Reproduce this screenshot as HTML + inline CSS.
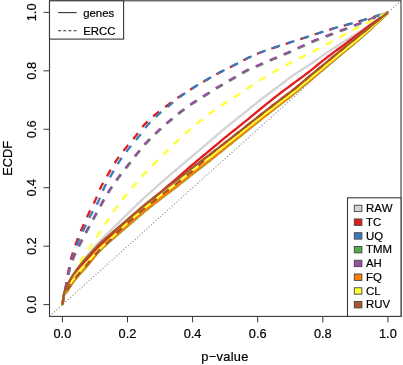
<!DOCTYPE html>
<html><head><meta charset="utf-8"><title>ECDF</title>
<style>
html,body{margin:0;padding:0;background:#fff}
body{width:403px;height:365px;overflow:hidden;position:relative}
text{font-family:"Liberation Sans",Arial,Helvetica,sans-serif;fill:#000;stroke:#000;stroke-width:0.2px}
.ax{font-size:12.8px}
.lab{font-size:12.8px}
.lg{font-size:11.4px;font-kerning:none}
</style></head><body>
<svg width="403" height="365" viewBox="0 0 403 365" style="position:absolute;left:0;top:0">
<rect x="0" y="0" width="403" height="365" fill="#fff"/>
<line x1="49.5" y1="316.29" x2="401.0" y2="0.71" stroke="#8c8c8c" stroke-width="1.1" stroke-dasharray="1.1 2"/>
<path d="M62.40,304.60 L62.40,304.57 L62.42,304.48 L62.44,304.32 L62.48,304.10 L62.52,303.82 L62.57,303.48 L62.64,303.07 L62.71,302.61 L62.79,302.08 L62.89,301.50 L62.99,300.85 L63.10,300.15 L63.22,299.39 L63.35,298.56 L63.49,297.63 L63.64,296.58 L63.80,295.46 L63.97,294.33 L64.15,293.26 L64.34,292.38 L64.54,291.69 L64.75,291.04 L64.97,290.41 L65.19,289.82 L65.43,289.24 L65.68,288.68 L65.94,288.12 L66.20,287.56 L66.48,286.97 L66.77,286.35 L67.06,285.73 L67.37,285.10 L67.68,284.46 L68.01,283.83 L68.34,283.18 L68.69,282.53 L69.04,281.88 L69.41,281.21 L69.78,280.53 L70.16,279.84 L70.56,279.15 L70.96,278.45 L71.37,277.74 L71.79,277.03 L72.23,276.32 L72.67,275.60 L73.12,274.89 L73.58,274.17 L74.05,273.45 L74.53,272.73 L75.02,272.00 L75.52,271.27 L76.03,270.53 L76.55,269.79 L77.08,269.05 L77.62,268.31 L78.17,267.56 L78.72,266.80 L79.29,266.01 L79.87,265.20 L80.46,264.37 L81.05,263.52 L81.66,262.65 L82.28,261.77 L82.90,260.90 L83.54,260.04 L84.18,259.19 L84.84,258.37 L85.50,257.55 L86.18,256.72 L86.86,255.89 L87.55,255.05 L88.26,254.20 L88.97,253.35 L89.69,252.49 L90.43,251.63 L91.17,250.77 L91.92,249.90 L92.68,249.03 L93.45,248.15 L94.24,247.27 L95.03,246.39 L95.83,245.51 L96.64,244.62 L97.46,243.74 L98.29,242.86 L99.13,241.97 L99.98,241.09 L100.84,240.21 L101.70,239.33 L102.58,238.44 L103.47,237.55 L104.37,236.65 L105.28,235.75 L106.19,234.85 L107.12,233.94 L108.06,233.02 L109.00,232.10 L109.96,231.16 L110.92,230.22 L111.90,229.28 L112.88,228.32 L113.88,227.35 L114.88,226.37 L115.90,225.37 L116.92,224.36 L117.95,223.34 L119.00,222.31 L120.05,221.27 L121.11,220.22 L122.19,219.16 L123.27,218.10 L124.36,217.02 L125.46,215.94 L126.57,214.85 L127.69,213.75 L128.82,212.64 L129.96,211.51 L131.11,210.37 L132.27,209.22 L133.44,208.06 L134.62,206.89 L135.81,205.73 L137.01,204.56 L138.22,203.39 L139.44,202.23 L140.66,201.08 L141.90,199.93 L143.15,198.80 L144.40,197.67 L145.67,196.54 L146.95,195.39 L148.23,194.24 L149.53,193.07 L150.83,191.90 L152.15,190.72 L153.47,189.53 L154.81,188.33 L156.15,187.13 L157.51,185.91 L158.87,184.69 L160.24,183.46 L161.63,182.23 L163.02,181.02 L164.42,179.80 L165.83,178.59 L167.25,177.38 L168.69,176.16 L170.13,174.95 L171.58,173.72 L173.04,172.49 L174.51,171.25 L175.99,170.00 L177.48,168.73 L178.98,167.45 L180.49,166.17 L182.01,164.89 L183.53,163.60 L185.07,162.30 L186.62,160.99 L188.18,159.68 L189.74,158.35 L191.32,157.02 L192.91,155.67 L194.51,154.32 L196.11,152.96 L197.73,151.58 L199.35,150.20 L200.99,148.81 L202.63,147.42 L204.29,146.01 L205.95,144.60 L207.63,143.17 L209.31,141.74 L211.00,140.30 L212.71,138.84 L214.42,137.37 L216.14,135.90 L217.87,134.41 L219.62,132.92 L221.37,131.43 L223.13,129.94 L224.90,128.44 L226.68,126.95 L228.47,125.47 L230.27,124.01 L232.08,122.56 L233.90,121.11 L235.73,119.67 L237.57,118.22 L239.42,116.77 L241.28,115.30 L243.14,113.81 L245.02,112.30 L246.91,110.77 L248.81,109.24 L250.71,107.69 L252.63,106.15 L254.56,104.60 L256.49,103.05 L258.44,101.51 L260.39,99.98 L262.36,98.46 L264.34,96.96 L266.32,95.46 L268.31,93.97 L270.32,92.48 L272.33,90.99 L274.36,89.48 L276.39,87.96 L278.43,86.42 L280.48,84.86 L282.55,83.29 L284.62,81.72 L286.70,80.15 L288.79,78.59 L290.89,77.04 L293.00,75.53 L295.12,74.06 L297.25,72.64 L299.39,71.27 L301.54,69.92 L303.70,68.57 L305.87,67.20 L308.05,65.79 L310.24,64.32 L312.44,62.80 L314.64,61.25 L316.86,59.67 L319.09,58.09 L321.33,56.50 L323.57,54.92 L325.83,53.36 L328.09,51.83 L330.37,50.33 L332.66,48.84 L334.95,47.36 L337.26,45.88 L339.57,44.39 L341.89,42.90 L344.23,41.39 L346.57,39.87 L348.93,38.36 L351.29,36.83 L353.66,35.30 L356.04,33.75 L358.44,32.19 L360.84,30.60 L363.25,29.01 L365.67,27.40 L368.10,25.78 L370.54,24.15 L372.99,22.51 L375.45,20.86 L377.92,19.20 L380.40,17.52 L382.89,15.83 L385.39,14.12 L387.90,12.40" stroke="#d3d3d3" stroke-width="2.3" fill="none" stroke-linejoin="round"/>
<path d="M62.40,304.60 L62.40,304.57 L62.42,304.48 L62.44,304.32 L62.48,304.10 L62.52,303.82 L62.57,303.49 L62.64,303.09 L62.71,302.64 L62.79,302.13 L62.89,301.57 L62.99,300.95 L63.10,300.28 L63.22,299.57 L63.35,298.80 L63.49,297.93 L63.64,296.95 L63.80,295.92 L63.97,294.88 L64.15,293.94 L64.34,293.26 L64.54,292.87 L64.75,292.60 L64.97,292.43 L65.19,292.34 L65.43,292.31 L65.68,292.30 L65.94,292.26 L66.20,292.14 L66.48,291.86 L66.77,291.40 L67.06,290.91 L67.37,290.42 L67.68,289.91 L68.01,289.39 L68.34,288.86 L68.69,288.33 L69.04,287.77 L69.41,287.21 L69.78,286.63 L70.16,286.04 L70.56,285.44 L70.96,284.83 L71.37,284.22 L71.79,283.59 L72.23,282.96 L72.67,282.33 L73.12,281.69 L73.58,281.05 L74.05,280.41 L74.53,279.78 L75.02,279.15 L75.52,278.53 L76.03,277.92 L76.55,277.31 L77.08,276.69 L77.62,276.06 L78.17,275.43 L78.72,274.80 L79.29,274.16 L79.87,273.51 L80.46,272.85 L81.05,272.18 L81.66,271.51 L82.28,270.84 L82.90,270.16 L83.54,269.46 L84.18,268.76 L84.84,268.04 L85.50,267.30 L86.18,266.53 L86.86,265.73 L87.55,264.90 L88.26,264.05 L88.97,263.18 L89.69,262.29 L90.43,261.38 L91.17,260.45 L91.92,259.51 L92.68,258.55 L93.45,257.59 L94.24,256.62 L95.03,255.65 L95.83,254.68 L96.64,253.71 L97.46,252.76 L98.29,251.81 L99.13,250.89 L99.98,249.99 L100.84,249.11 L101.70,248.27 L102.58,247.45 L103.47,246.63 L104.37,245.80 L105.28,244.98 L106.19,244.15 L107.12,243.31 L108.06,242.48 L109.00,241.64 L109.96,240.80 L110.92,239.95 L111.90,239.10 L112.88,238.24 L113.88,237.37 L114.88,236.50 L115.90,235.62 L116.92,234.73 L117.95,233.83 L119.00,232.92 L120.05,232.00 L121.11,231.07 L122.19,230.14 L123.27,229.21 L124.36,228.26 L125.46,227.31 L126.57,226.36 L127.69,225.39 L128.82,224.42 L129.96,223.44 L131.11,222.46 L132.27,221.46 L133.44,220.46 L134.62,219.45 L135.81,218.44 L137.01,217.42 L138.22,216.39 L139.44,215.35 L140.66,214.31 L141.90,213.26 L143.15,212.21 L144.40,211.15 L145.67,210.10 L146.95,209.05 L148.23,208.02 L149.53,206.98 L150.83,205.95 L152.15,204.92 L153.47,203.88 L154.81,202.85 L156.15,201.81 L157.51,200.76 L158.87,199.70 L160.24,198.63 L161.63,197.56 L163.02,196.50 L164.42,195.43 L165.83,194.37 L167.25,193.30 L168.69,192.23 L170.13,191.14 L171.58,190.05 L173.04,188.94 L174.51,187.81 L175.99,186.67 L177.48,185.50 L178.98,184.31 L180.49,183.11 L182.01,181.89 L183.53,180.66 L185.07,179.41 L186.62,178.17 L188.18,176.91 L189.74,175.66 L191.32,174.41 L192.91,173.16 L194.51,171.92 L196.11,170.67 L197.73,169.43 L199.35,168.18 L200.99,166.93 L202.63,165.67 L204.29,164.39 L205.95,163.10 L207.63,161.80 L209.31,160.47 L211.00,159.13 L212.71,157.77 L214.42,156.41 L216.14,155.03 L217.87,153.64 L219.62,152.24 L221.37,150.83 L223.13,149.41 L224.90,147.98 L226.68,146.54 L228.47,145.10 L230.27,143.64 L232.08,142.18 L233.90,140.71 L235.73,139.23 L237.57,137.75 L239.42,136.26 L241.28,134.77 L243.14,133.27 L245.02,131.76 L246.91,130.24 L248.81,128.71 L250.71,127.17 L252.63,125.63 L254.56,124.08 L256.49,122.52 L258.44,120.97 L260.39,119.42 L262.36,117.86 L264.34,116.30 L266.32,114.74 L268.31,113.17 L270.32,111.60 L272.33,110.03 L274.36,108.45 L276.39,106.87 L278.43,105.28 L280.48,103.69 L282.55,102.09 L284.62,100.49 L286.70,98.90 L288.79,97.32 L290.89,95.72 L293.00,94.05 L295.12,92.33 L297.25,90.57 L299.39,88.78 L301.54,86.98 L303.70,85.16 L305.87,83.34 L308.05,81.51 L310.24,79.68 L312.44,77.85 L314.64,76.01 L316.86,74.15 L319.09,72.29 L321.33,70.43 L323.57,68.55 L325.83,66.67 L328.09,64.77 L330.37,62.87 L332.66,60.95 L334.95,59.03 L337.26,57.10 L339.57,55.16 L341.89,53.23 L344.23,51.29 L346.57,49.35 L348.93,47.41 L351.29,45.46 L353.66,43.51 L356.04,41.55 L358.44,39.54 L360.84,37.47 L363.25,35.35 L365.67,33.19 L368.10,30.99 L370.54,28.75 L372.99,26.47 L375.45,24.17 L377.92,21.84 L380.40,19.50 L382.89,17.14 L385.39,14.77 L387.90,12.40" stroke="#d3d3d3" stroke-width="2.3" fill="none" stroke-dasharray="7.6 7.6" stroke-linejoin="round"/>
<path d="M62.40,304.60 L62.40,304.57 L62.42,304.48 L62.44,304.33 L62.48,304.12 L62.52,303.86 L62.57,303.53 L62.64,303.15 L62.71,302.71 L62.79,302.21 L62.89,301.65 L62.99,301.04 L63.10,300.37 L63.22,299.65 L63.35,298.87 L63.49,297.98 L63.64,296.99 L63.80,295.94 L63.97,294.87 L64.15,293.87 L64.34,293.04 L64.54,292.39 L64.75,291.78 L64.97,291.19 L65.19,290.63 L65.43,290.09 L65.68,289.56 L65.94,289.03 L66.20,288.49 L66.48,287.93 L66.77,287.33 L67.06,286.71 L67.37,286.09 L67.68,285.46 L68.01,284.82 L68.34,284.18 L68.69,283.53 L69.04,282.88 L69.41,282.23 L69.78,281.58 L70.16,280.93 L70.56,280.28 L70.96,279.62 L71.37,278.96 L71.79,278.29 L72.23,277.61 L72.67,276.92 L73.12,276.21 L73.58,275.50 L74.05,274.77 L74.53,274.04 L75.02,273.31 L75.52,272.57 L76.03,271.85 L76.55,271.11 L77.08,270.36 L77.62,269.61 L78.17,268.88 L78.72,268.17 L79.29,267.50 L79.87,266.85 L80.46,266.21 L81.05,265.57 L81.66,264.93 L82.28,264.29 L82.90,263.64 L83.54,262.98 L84.18,262.32 L84.84,261.63 L85.50,260.93 L86.18,260.22 L86.86,259.49 L87.55,258.75 L88.26,257.99 L88.97,257.22 L89.69,256.44 L90.43,255.66 L91.17,254.86 L91.92,254.05 L92.68,253.24 L93.45,252.42 L94.24,251.59 L95.03,250.76 L95.83,249.93 L96.64,249.10 L97.46,248.27 L98.29,247.44 L99.13,246.62 L99.98,245.80 L100.84,244.99 L101.70,244.19 L102.58,243.40 L103.47,242.61 L104.37,241.82 L105.28,241.02 L106.19,240.22 L107.12,239.42 L108.06,238.61 L109.00,237.80 L109.96,236.98 L110.92,236.15 L111.90,235.32 L112.88,234.48 L113.88,233.63 L114.88,232.77 L115.90,231.90 L116.92,231.02 L117.95,230.13 L119.00,229.22 L120.05,228.30 L121.11,227.37 L122.19,226.42 L123.27,225.47 L124.36,224.51 L125.46,223.54 L126.57,222.56 L127.69,221.58 L128.82,220.58 L129.96,219.57 L131.11,218.56 L132.27,217.53 L133.44,216.50 L134.62,215.46 L135.81,214.40 L137.01,213.34 L138.22,212.26 L139.44,211.18 L140.66,210.08 L141.90,208.98 L143.15,207.86 L144.40,206.73 L145.67,205.60 L146.95,204.45 L148.23,203.30 L149.53,202.13 L150.83,200.96 L152.15,199.78 L153.47,198.59 L154.81,197.39 L156.15,196.19 L157.51,194.97 L158.87,193.75 L160.24,192.51 L161.63,191.29 L163.02,190.07 L164.42,188.85 L165.83,187.64 L167.25,186.44 L168.69,185.23 L170.13,184.01 L171.58,182.79 L173.04,181.56 L174.51,180.31 L175.99,179.04 L177.48,177.75 L178.98,176.45 L180.49,175.14 L182.01,173.82 L183.53,172.49 L185.07,171.15 L186.62,169.80 L188.18,168.45 L189.74,167.09 L191.32,165.73 L192.91,164.37 L194.51,163.02 L196.11,161.66 L197.73,160.31 L199.35,158.96 L200.99,157.61 L202.63,156.25 L204.29,154.89 L205.95,153.52 L207.63,152.13 L209.31,150.74 L211.00,149.33 L212.71,147.90 L214.42,146.47 L216.14,145.03 L217.87,143.57 L219.62,142.12 L221.37,140.66 L223.13,139.20 L224.90,137.73 L226.68,136.27 L228.47,134.82 L230.27,133.38 L232.08,131.95 L233.90,130.51 L235.73,129.08 L237.57,127.63 L239.42,126.17 L241.28,124.69 L243.14,123.19 L245.02,121.66 L246.91,120.11 L248.81,118.54 L250.71,116.97 L252.63,115.38 L254.56,113.79 L256.49,112.19 L258.44,110.59 L260.39,109.00 L262.36,107.40 L264.34,105.80 L266.32,104.20 L268.31,102.59 L270.32,100.98 L272.33,99.38 L274.36,97.77 L276.39,96.18 L278.43,94.59 L280.48,93.03 L282.55,91.47 L284.62,89.93 L286.70,88.38 L288.79,86.84 L290.89,85.28 L293.00,83.71 L295.12,82.13 L297.25,80.56 L299.39,78.98 L301.54,77.40 L303.70,75.80 L305.87,74.17 L308.05,72.51 L310.24,70.81 L312.44,69.07 L314.64,67.29 L316.86,65.50 L319.09,63.69 L321.33,61.87 L323.57,60.07 L325.83,58.28 L328.09,56.53 L330.37,54.80 L332.66,53.10 L334.95,51.41 L337.26,49.72 L339.57,48.03 L341.89,46.31 L344.23,44.57 L346.57,42.80 L348.93,41.03 L351.29,39.24 L353.66,37.45 L356.04,35.66 L358.44,33.88 L360.84,32.09 L363.25,30.31 L365.67,28.52 L368.10,26.74 L370.54,24.95 L372.99,23.16 L375.45,21.37 L377.92,19.57 L380.40,17.78 L382.89,15.99 L385.39,14.19 L387.90,12.40" stroke="#e41a1c" stroke-width="2.3" fill="none" stroke-linejoin="round"/>
<path d="M62.40,304.60 L62.40,304.57 L62.42,304.47 L62.44,304.30 L62.48,304.07 L62.52,303.78 L62.57,303.42 L62.64,303.00 L62.71,302.52 L62.79,301.99 L62.89,301.40 L62.99,300.76 L63.10,300.07 L63.22,299.35 L63.35,298.59 L63.49,297.79 L63.64,296.96 L63.80,296.10 L63.97,295.21 L64.15,294.28 L64.34,293.31 L64.54,292.30 L64.75,291.28 L64.97,290.25 L65.19,289.18 L65.43,288.05 L65.68,286.84 L65.94,285.50 L66.20,284.03 L66.48,282.43 L66.77,280.74 L67.06,278.95 L67.37,277.11 L67.68,275.24 L68.01,273.38 L68.34,271.58 L68.69,269.83 L69.04,268.05 L69.41,266.26 L69.78,264.46 L70.16,262.68 L70.56,260.92 L70.96,259.21 L71.37,257.56 L71.79,255.98 L72.23,254.45 L72.67,252.96 L73.12,251.50 L73.58,250.07 L74.05,248.66 L74.53,247.27 L75.02,245.88 L75.52,244.50 L76.03,243.10 L76.55,241.68 L77.08,240.27 L77.62,238.86 L78.17,237.47 L78.72,236.07 L79.29,234.68 L79.87,233.29 L80.46,231.89 L81.05,230.49 L81.66,229.06 L82.28,227.62 L82.90,226.17 L83.54,224.72 L84.18,223.26 L84.84,221.79 L85.50,220.32 L86.18,218.85 L86.86,217.37 L87.55,215.89 L88.26,214.41 L88.97,212.95 L89.69,211.51 L90.43,210.08 L91.17,208.64 L91.92,207.19 L92.68,205.71 L93.45,204.17 L94.24,202.56 L95.03,200.86 L95.83,199.04 L96.64,197.10 L97.46,195.10 L98.29,193.08 L99.13,191.07 L99.98,189.13 L100.84,187.30 L101.70,185.58 L102.58,183.92 L103.47,182.31 L104.37,180.72 L105.28,179.16 L106.19,177.61 L107.12,176.05 L108.06,174.46 L109.00,172.84 L109.96,171.18 L110.92,169.50 L111.90,167.80 L112.88,166.12 L113.88,164.44 L114.88,162.80 L115.90,161.20 L116.92,159.65 L117.95,158.16 L119.00,156.71 L120.05,155.29 L121.11,153.90 L122.19,152.52 L123.27,151.15 L124.36,149.77 L125.46,148.39 L126.57,147.00 L127.69,145.63 L128.82,144.28 L129.96,142.92 L131.11,141.56 L132.27,140.19 L133.44,138.79 L134.62,137.36 L135.81,135.88 L137.01,134.32 L138.22,132.67 L139.44,130.98 L140.66,129.29 L141.90,127.63 L143.15,126.06 L144.40,124.61 L145.67,123.29 L146.95,122.01 L148.23,120.77 L149.53,119.56 L150.83,118.38 L152.15,117.23 L153.47,116.10 L154.81,114.99 L156.15,113.91 L157.51,112.83 L158.87,111.77 L160.24,110.72 L161.63,109.68 L163.02,108.63 L164.42,107.58 L165.83,106.52 L167.25,105.45 L168.69,104.36 L170.13,103.27 L171.58,102.18 L173.04,101.11 L174.51,100.04 L175.99,98.98 L177.48,97.93 L178.98,96.89 L180.49,95.86 L182.01,94.85 L183.53,93.84 L185.07,92.85 L186.62,91.86 L188.18,90.88 L189.74,89.91 L191.32,88.94 L192.91,87.97 L194.51,86.99 L196.11,86.02 L197.73,85.05 L199.35,84.09 L200.99,83.13 L202.63,82.17 L204.29,81.20 L205.95,80.24 L207.63,79.28 L209.31,78.31 L211.00,77.34 L212.71,76.37 L214.42,75.41 L216.14,74.45 L217.87,73.49 L219.62,72.56 L221.37,71.63 L223.13,70.73 L224.90,69.84 L226.68,68.96 L228.47,68.08 L230.27,67.19 L232.08,66.28 L233.90,65.35 L235.73,64.39 L237.57,63.39 L239.42,62.38 L241.28,61.37 L243.14,60.37 L245.02,59.40 L246.91,58.47 L248.81,57.57 L250.71,56.68 L252.63,55.80 L254.56,54.94 L256.49,54.09 L258.44,53.27 L260.39,52.48 L262.36,51.71 L264.34,50.97 L266.32,50.27 L268.31,49.59 L270.32,48.93 L272.33,48.27 L274.36,47.61 L276.39,46.95 L278.43,46.26 L280.48,45.58 L282.55,44.90 L284.62,44.22 L286.70,43.54 L288.79,42.85 L290.89,42.17 L293.00,41.48 L295.12,40.79 L297.25,40.11 L299.39,39.42 L301.54,38.73 L303.70,38.03 L305.87,37.33 L308.05,36.62 L310.24,35.90 L312.44,35.17 L314.64,34.44 L316.86,33.72 L319.09,32.99 L321.33,32.27 L323.57,31.56 L325.83,30.84 L328.09,30.12 L330.37,29.40 L332.66,28.70 L334.95,28.02 L337.26,27.35 L339.57,26.72 L341.89,26.11 L344.23,25.50 L346.57,24.88 L348.93,24.23 L351.29,23.56 L353.66,22.89 L356.04,22.20 L358.44,21.51 L360.84,20.81 L363.25,20.10 L365.67,19.37 L368.10,18.64 L370.54,17.90 L372.99,17.15 L375.45,16.39 L377.92,15.62 L380.40,14.83 L382.89,14.03 L385.39,13.22 L387.90,12.40" stroke="#e41a1c" stroke-width="2.3" fill="none" stroke-dasharray="7.6 7.6" stroke-linejoin="round"/>
<path d="M62.40,304.60 L62.40,304.57 L62.42,304.48 L62.44,304.32 L62.48,304.10 L62.52,303.82 L62.57,303.48 L62.64,303.09 L62.71,302.63 L62.79,302.12 L62.89,301.55 L62.99,300.92 L63.10,300.25 L63.22,299.52 L63.35,298.74 L63.49,297.85 L63.64,296.86 L63.80,295.80 L63.97,294.74 L64.15,293.77 L64.34,293.05 L64.54,292.60 L64.75,292.25 L64.97,291.98 L65.19,291.76 L65.43,291.57 L65.68,291.37 L65.94,291.14 L66.20,290.87 L66.48,290.51 L66.77,290.04 L67.06,289.55 L67.37,289.05 L67.68,288.55 L68.01,288.03 L68.34,287.51 L68.69,286.98 L69.04,286.44 L69.41,285.88 L69.78,285.31 L70.16,284.74 L70.56,284.15 L70.96,283.56 L71.37,282.95 L71.79,282.35 L72.23,281.73 L72.67,281.12 L73.12,280.50 L73.58,279.88 L74.05,279.26 L74.53,278.63 L75.02,278.02 L75.52,277.40 L76.03,276.78 L76.55,276.16 L77.08,275.52 L77.62,274.87 L78.17,274.22 L78.72,273.55 L79.29,272.87 L79.87,272.19 L80.46,271.50 L81.05,270.82 L81.66,270.12 L82.28,269.43 L82.90,268.72 L83.54,268.01 L84.18,267.30 L84.84,266.57 L85.50,265.82 L86.18,265.06 L86.86,264.27 L87.55,263.46 L88.26,262.64 L88.97,261.79 L89.69,260.94 L90.43,260.06 L91.17,259.18 L91.92,258.28 L92.68,257.38 L93.45,256.47 L94.24,255.55 L95.03,254.63 L95.83,253.71 L96.64,252.80 L97.46,251.89 L98.29,250.99 L99.13,250.10 L99.98,249.23 L100.84,248.37 L101.70,247.54 L102.58,246.72 L103.47,245.90 L104.37,245.08 L105.28,244.24 L106.19,243.40 L107.12,242.56 L108.06,241.71 L109.00,240.85 L109.96,239.99 L110.92,239.12 L111.90,238.25 L112.88,237.37 L113.88,236.48 L114.88,235.58 L115.90,234.66 L116.92,233.74 L117.95,232.80 L119.00,231.85 L120.05,230.89 L121.11,229.92 L122.19,228.95 L123.27,227.98 L124.36,227.01 L125.46,226.03 L126.57,225.05 L127.69,224.08 L128.82,223.10 L129.96,222.11 L131.11,221.11 L132.27,220.10 L133.44,219.09 L134.62,218.07 L135.81,217.04 L137.01,216.00 L138.22,214.96 L139.44,213.92 L140.66,212.87 L141.90,211.81 L143.15,210.75 L144.40,209.69 L145.67,208.63 L146.95,207.59 L148.23,206.55 L149.53,205.51 L150.83,204.48 L152.15,203.44 L153.47,202.41 L154.81,201.37 L156.15,200.33 L157.51,199.29 L158.87,198.23 L160.24,197.16 L161.63,196.10 L163.02,195.03 L164.42,193.97 L165.83,192.91 L167.25,191.84 L168.69,190.77 L170.13,189.69 L171.58,188.60 L173.04,187.50 L174.51,186.38 L175.99,185.23 L177.48,184.07 L178.98,182.88 L180.49,181.68 L182.01,180.47 L183.53,179.24 L185.07,178.01 L186.62,176.76 L188.18,175.52 L189.74,174.27 L191.32,173.02 L192.91,171.77 L194.51,170.53 L196.11,169.30 L197.73,168.06 L199.35,166.82 L200.99,165.57 L202.63,164.31 L204.29,163.05 L205.95,161.77 L207.63,160.47 L209.31,159.15 L211.00,157.82 L212.71,156.47 L214.42,155.12 L216.14,153.75 L217.87,152.37 L219.62,150.98 L221.37,149.58 L223.13,148.18 L224.90,146.76 L226.68,145.34 L228.47,143.90 L230.27,142.46 L232.08,141.01 L233.90,139.56 L235.73,138.09 L237.57,136.63 L239.42,135.15 L241.28,133.67 L243.14,132.19 L245.02,130.69 L246.91,129.19 L248.81,127.67 L250.71,126.14 L252.63,124.61 L254.56,123.08 L256.49,121.54 L258.44,119.99 L260.39,118.45 L262.36,116.91 L264.34,115.36 L266.32,113.81 L268.31,112.25 L270.32,110.70 L272.33,109.13 L274.36,107.56 L276.39,105.99 L278.43,104.42 L280.48,102.83 L282.55,101.25 L284.62,99.65 L286.70,98.07 L288.79,96.51 L290.89,94.92 L293.00,93.26 L295.12,91.55 L297.25,89.80 L299.39,88.02 L301.54,86.23 L303.70,84.42 L305.87,82.60 L308.05,80.77 L310.24,78.95 L312.44,77.13 L314.64,75.29 L316.86,73.45 L319.09,71.59 L321.33,69.73 L323.57,67.86 L325.83,65.99 L328.09,64.10 L330.37,62.21 L332.66,60.30 L334.95,58.39 L337.26,56.47 L339.57,54.54 L341.89,52.62 L344.23,50.69 L346.57,48.77 L348.93,46.85 L351.29,44.92 L353.66,42.99 L356.04,41.04 L358.44,39.06 L360.84,37.02 L363.25,34.93 L365.67,32.79 L368.10,30.62 L370.54,28.41 L372.99,26.18 L375.45,23.92 L377.92,21.63 L380.40,19.34 L382.89,17.03 L385.39,14.71 L387.90,12.40" stroke="#377eb8" stroke-width="2.3" fill="none" stroke-linejoin="round"/>
<path d="M62.40,304.60 L62.40,304.57 L62.42,304.49 L62.44,304.34 L62.48,304.14 L62.52,303.89 L62.57,303.57 L62.64,303.21 L62.71,302.79 L62.79,302.32 L62.89,301.80 L62.99,301.24 L63.10,300.63 L63.22,299.99 L63.35,299.31 L63.49,298.60 L63.64,297.86 L63.80,297.09 L63.97,296.29 L64.15,295.46 L64.34,294.60 L64.54,293.72 L64.75,292.79 L64.97,291.85 L65.19,290.89 L65.43,289.92 L65.68,288.91 L65.94,287.84 L66.20,286.70 L66.48,285.44 L66.77,284.07 L67.06,282.60 L67.37,281.03 L67.68,279.39 L68.01,277.69 L68.34,275.95 L68.69,274.21 L69.04,272.48 L69.41,270.81 L69.78,269.12 L70.16,267.41 L70.56,265.68 L70.96,263.95 L71.37,262.23 L71.79,260.54 L72.23,258.89 L72.67,257.30 L73.12,255.79 L73.58,254.32 L74.05,252.88 L74.53,251.47 L75.02,250.09 L75.52,248.72 L76.03,247.38 L76.55,246.04 L77.08,244.70 L77.62,243.35 L78.17,241.99 L78.72,240.62 L79.29,239.27 L79.87,237.92 L80.46,236.58 L81.05,235.24 L81.66,233.91 L82.28,232.57 L82.90,231.22 L83.54,229.86 L84.18,228.49 L84.84,227.10 L85.50,225.70 L86.18,224.31 L86.86,222.90 L87.55,221.49 L88.26,220.08 L88.97,218.67 L89.69,217.25 L90.43,215.83 L91.17,214.41 L91.92,213.02 L92.68,211.65 L93.45,210.30 L94.24,208.95 L95.03,207.58 L95.83,206.17 L96.64,204.71 L97.46,203.16 L98.29,201.51 L99.13,199.70 L99.98,197.73 L100.84,195.66 L101.70,193.52 L102.58,191.39 L103.47,189.33 L104.37,187.40 L105.28,185.60 L106.19,183.87 L107.12,182.19 L108.06,180.54 L109.00,178.92 L109.96,177.30 L110.92,175.67 L111.90,174.01 L112.88,172.31 L113.88,170.58 L114.88,168.84 L115.90,167.09 L116.92,165.34 L117.95,163.62 L119.00,161.95 L120.05,160.32 L121.11,158.76 L122.19,157.25 L123.27,155.78 L124.36,154.34 L125.46,152.91 L126.57,151.50 L127.69,150.09 L128.82,148.66 L129.96,147.23 L131.11,145.83 L132.27,144.43 L133.44,143.04 L134.62,141.65 L135.81,140.24 L137.01,138.81 L138.22,137.34 L139.44,135.83 L140.66,134.23 L141.90,132.55 L143.15,130.83 L144.40,129.12 L145.67,127.43 L146.95,125.83 L148.23,124.35 L149.53,122.97 L150.83,121.62 L152.15,120.31 L153.47,119.02 L154.81,117.77 L156.15,116.54 L157.51,115.34 L158.87,114.15 L160.24,112.98 L161.63,111.81 L163.02,110.66 L164.42,109.51 L165.83,108.36 L167.25,107.20 L168.69,106.03 L170.13,104.85 L171.58,103.66 L173.04,102.46 L174.51,101.27 L175.99,100.09 L177.48,98.93 L178.98,97.77 L180.49,96.63 L182.01,95.51 L183.53,94.40 L185.07,93.30 L186.62,92.21 L188.18,91.14 L189.74,90.08 L191.32,89.03 L192.91,88.00 L194.51,86.98 L196.11,85.99 L197.73,85.01 L199.35,84.04 L200.99,83.09 L202.63,82.14 L204.29,81.19 L205.95,80.24 L207.63,79.28 L209.31,78.31 L211.00,77.34 L212.71,76.37 L214.42,75.41 L216.14,74.45 L217.87,73.49 L219.62,72.56 L221.37,71.63 L223.13,70.73 L224.90,69.84 L226.68,68.96 L228.47,68.08 L230.27,67.19 L232.08,66.28 L233.90,65.35 L235.73,64.39 L237.57,63.39 L239.42,62.38 L241.28,61.37 L243.14,60.37 L245.02,59.40 L246.91,58.47 L248.81,57.57 L250.71,56.68 L252.63,55.80 L254.56,54.94 L256.49,54.09 L258.44,53.27 L260.39,52.48 L262.36,51.71 L264.34,50.97 L266.32,50.27 L268.31,49.59 L270.32,48.93 L272.33,48.27 L274.36,47.61 L276.39,46.95 L278.43,46.26 L280.48,45.58 L282.55,44.90 L284.62,44.22 L286.70,43.54 L288.79,42.85 L290.89,42.17 L293.00,41.48 L295.12,40.79 L297.25,40.11 L299.39,39.42 L301.54,38.73 L303.70,38.03 L305.87,37.33 L308.05,36.62 L310.24,35.90 L312.44,35.17 L314.64,34.44 L316.86,33.72 L319.09,32.99 L321.33,32.27 L323.57,31.56 L325.83,30.84 L328.09,30.12 L330.37,29.40 L332.66,28.70 L334.95,28.02 L337.26,27.35 L339.57,26.72 L341.89,26.11 L344.23,25.50 L346.57,24.88 L348.93,24.23 L351.29,23.56 L353.66,22.89 L356.04,22.20 L358.44,21.51 L360.84,20.81 L363.25,20.10 L365.67,19.37 L368.10,18.64 L370.54,17.90 L372.99,17.15 L375.45,16.39 L377.92,15.62 L380.40,14.83 L382.89,14.03 L385.39,13.22 L387.90,12.40" stroke="#377eb8" stroke-width="2.3" fill="none" stroke-dasharray="7.6 7.6" stroke-linejoin="round"/>
<path d="M62.40,305.18 L62.40,305.15 L62.42,305.06 L62.44,304.90 L62.48,304.69 L62.52,304.41 L62.57,304.07 L62.64,303.68 L62.71,303.22 L62.79,302.71 L62.89,302.15 L62.99,301.53 L63.10,300.87 L63.22,300.15 L63.35,299.38 L63.49,298.51 L63.64,297.54 L63.80,296.50 L63.97,295.46 L64.15,294.52 L64.34,293.84 L64.54,293.46 L64.75,293.19 L64.97,293.02 L65.19,292.93 L65.43,292.89 L65.68,292.88 L65.94,292.84 L66.20,292.72 L66.48,292.45 L66.77,291.99 L67.06,291.50 L67.37,291.00 L67.68,290.49 L68.01,289.98 L68.34,289.45 L68.69,288.91 L69.04,288.36 L69.41,287.79 L69.78,287.22 L70.16,286.63 L70.56,286.03 L70.96,285.42 L71.37,284.80 L71.79,284.18 L72.23,283.55 L72.67,282.91 L73.12,282.28 L73.58,281.64 L74.05,281.00 L74.53,280.36 L75.02,279.74 L75.52,279.12 L76.03,278.50 L76.55,277.89 L77.08,277.27 L77.62,276.65 L78.17,276.02 L78.72,275.38 L79.29,274.75 L79.87,274.09 L80.46,273.43 L81.05,272.77 L81.66,272.10 L82.28,271.42 L82.90,270.74 L83.54,270.05 L84.18,269.34 L84.84,268.63 L85.50,267.88 L86.18,267.11 L86.86,266.31 L87.55,265.49 L88.26,264.64 L88.97,263.77 L89.69,262.87 L90.43,261.96 L91.17,261.03 L91.92,260.09 L92.68,259.13 L93.45,258.17 L94.24,257.20 L95.03,256.23 L95.83,255.26 L96.64,254.30 L97.46,253.34 L98.29,252.40 L99.13,251.47 L99.98,250.57 L100.84,249.70 L101.70,248.86 L102.58,248.03 L103.47,247.21 L104.37,246.39 L105.28,245.56 L106.19,244.73 L107.12,243.90 L108.06,243.06 L109.00,242.22 L109.96,241.38 L110.92,240.53 L111.90,239.68 L112.88,238.82 L113.88,237.96 L114.88,237.08 L115.90,236.20 L116.92,235.31 L117.95,234.41 L119.00,233.50 L120.05,232.58 L121.11,231.66 L122.19,230.73 L123.27,229.79 L124.36,228.85 L125.46,227.90 L126.57,226.94 L127.69,225.98 L128.82,225.01 L129.96,224.03 L131.11,223.04 L132.27,222.05 L133.44,221.05 L134.62,220.04 L135.81,219.02 L137.01,218.00 L138.22,216.97 L139.44,215.94 L140.66,214.90 L141.90,213.85 L143.15,212.79 L144.40,211.74 L145.67,210.68 L146.95,209.64 L148.23,208.60 L149.53,207.56 L150.83,206.53 L152.15,205.50 L153.47,204.47 L154.81,203.43 L156.15,202.39 L157.51,201.34 L158.87,200.29 L160.24,199.22 L161.63,198.15 L163.02,197.08 L164.42,196.02 L165.83,194.95 L167.25,193.88 L168.69,192.81 L170.13,191.73 L171.58,190.63 L173.04,189.52 L174.51,188.40 L175.99,187.25 L177.48,186.08 L178.98,184.89 L180.49,183.69 L182.01,182.47 L183.53,181.24 L185.07,180.00 L186.62,178.75 L188.18,177.50 L189.74,176.25 L191.32,174.99 L192.91,173.74 L194.51,172.50 L196.11,171.26 L197.73,170.01 L199.35,168.77 L200.99,167.51 L202.63,166.25 L204.29,164.98 L205.95,163.69 L207.63,162.38 L209.31,161.06 L211.00,159.71 L212.71,158.36 L214.42,156.99 L216.14,155.61 L217.87,154.22 L219.62,152.82 L221.37,151.41 L223.13,149.99 L224.90,148.57 L226.68,147.13 L228.47,145.68 L230.27,144.23 L232.08,142.77 L233.90,141.30 L235.73,139.82 L237.57,138.34 L239.42,136.85 L241.28,135.35 L243.14,133.86 L245.02,132.35 L246.91,130.83 L248.81,129.29 L250.71,127.76 L252.63,126.21 L254.56,124.66 L256.49,123.11 L258.44,121.55 L260.39,120.00 L262.36,118.45 L264.34,116.89 L266.32,115.32 L268.31,113.76 L270.32,112.19 L272.33,110.61 L274.36,109.03 L276.39,107.45 L278.43,105.86 L280.48,104.27 L282.55,102.67 L284.62,101.07 L286.70,99.48 L288.79,97.90 L290.89,96.30 L293.00,94.64 L295.12,92.91 L297.25,91.15 L299.39,89.37 L301.54,87.57 L303.70,85.75 L305.87,83.92 L308.05,82.09 L310.24,80.27 L312.44,78.43 L314.64,76.59 L316.86,74.74 L319.09,72.88 L321.33,71.01 L323.57,69.14 L325.83,67.25 L328.09,65.36 L330.37,63.45 L332.66,61.54 L334.95,59.61 L337.26,57.68 L339.57,55.75 L341.89,53.81 L344.23,51.87 L346.57,49.93 L348.93,47.99 L351.29,46.05 L353.66,44.10 L356.04,42.13 L358.44,40.12 L360.84,38.06 L363.25,35.94 L365.67,33.78 L368.10,31.57 L370.54,29.33 L372.99,27.06 L375.45,24.75 L377.92,22.43 L380.40,20.08 L382.89,17.72 L385.39,15.36 L387.90,12.98" stroke="#4daf4a" stroke-width="2.3" fill="none" stroke-linejoin="round"/>
<path d="M62.40,304.60 L62.40,304.58 L62.42,304.53 L62.44,304.45 L62.48,304.33 L62.52,304.17 L62.57,303.97 L62.64,303.74 L62.71,303.46 L62.79,303.14 L62.89,302.77 L62.99,302.35 L63.10,301.89 L63.22,301.37 L63.35,300.79 L63.49,300.15 L63.64,299.44 L63.80,298.63 L63.97,297.72 L64.15,296.71 L64.34,295.64 L64.54,294.55 L64.75,293.47 L64.97,292.43 L65.19,291.40 L65.43,290.37 L65.68,289.29 L65.94,288.15 L66.20,286.90 L66.48,285.48 L66.77,283.88 L67.06,282.12 L67.37,280.26 L67.68,278.34 L68.01,276.42 L68.34,274.57 L68.69,272.87 L69.04,271.41 L69.41,270.04 L69.78,268.71 L70.16,267.42 L70.56,266.16 L70.96,264.94 L71.37,263.75 L71.79,262.59 L72.23,261.45 L72.67,260.32 L73.12,259.20 L73.58,258.07 L74.05,256.92 L74.53,255.79 L75.02,254.67 L75.52,253.58 L76.03,252.49 L76.55,251.42 L77.08,250.36 L77.62,249.29 L78.17,248.23 L78.72,247.15 L79.29,246.06 L79.87,244.94 L80.46,243.79 L81.05,242.62 L81.66,241.44 L82.28,240.24 L82.90,239.04 L83.54,237.83 L84.18,236.60 L84.84,235.37 L85.50,234.12 L86.18,232.86 L86.86,231.58 L87.55,230.28 L88.26,228.97 L88.97,227.65 L89.69,226.32 L90.43,224.97 L91.17,223.61 L91.92,222.24 L92.68,220.85 L93.45,219.44 L94.24,218.01 L95.03,216.57 L95.83,215.10 L96.64,213.60 L97.46,212.08 L98.29,210.54 L99.13,208.99 L99.98,207.43 L100.84,205.87 L101.70,204.32 L102.58,202.78 L103.47,201.23 L104.37,199.68 L105.28,198.13 L106.19,196.58 L107.12,195.03 L108.06,193.49 L109.00,191.97 L109.96,190.46 L110.92,188.97 L111.90,187.49 L112.88,186.03 L113.88,184.57 L114.88,183.13 L115.90,181.69 L116.92,180.26 L117.95,178.84 L119.00,177.41 L120.05,176.01 L121.11,174.62 L122.19,173.24 L123.27,171.87 L124.36,170.49 L125.46,169.11 L126.57,167.72 L127.69,166.30 L128.82,164.85 L129.96,163.38 L131.11,161.89 L132.27,160.39 L133.44,158.88 L134.62,157.37 L135.81,155.86 L137.01,154.36 L138.22,152.88 L139.44,151.39 L140.66,149.88 L141.90,148.39 L143.15,146.90 L144.40,145.45 L145.67,144.03 L146.95,142.67 L148.23,141.34 L149.53,140.02 L150.83,138.70 L152.15,137.39 L153.47,136.09 L154.81,134.79 L156.15,133.51 L157.51,132.23 L158.87,130.95 L160.24,129.68 L161.63,128.42 L163.02,127.17 L164.42,125.92 L165.83,124.68 L167.25,123.45 L168.69,122.22 L170.13,121.00 L171.58,119.78 L173.04,118.57 L174.51,117.36 L175.99,116.16 L177.48,114.96 L178.98,113.76 L180.49,112.57 L182.01,111.38 L183.53,110.22 L185.07,109.07 L186.62,107.95 L188.18,106.84 L189.74,105.75 L191.32,104.66 L192.91,103.59 L194.51,102.51 L196.11,101.46 L197.73,100.42 L199.35,99.39 L200.99,98.36 L202.63,97.34 L204.29,96.31 L205.95,95.27 L207.63,94.21 L209.31,93.14 L211.00,92.07 L212.71,90.99 L214.42,89.91 L216.14,88.84 L217.87,87.78 L219.62,86.73 L221.37,85.69 L223.13,84.67 L224.90,83.66 L226.68,82.65 L228.47,81.63 L230.27,80.61 L232.08,79.57 L233.90,78.50 L235.73,77.39 L237.57,76.26 L239.42,75.13 L241.28,74.02 L243.14,72.93 L245.02,71.91 L246.91,70.95 L248.81,70.05 L250.71,69.18 L252.63,68.33 L254.56,67.51 L256.49,66.68 L258.44,65.85 L260.39,65.00 L262.36,64.14 L264.34,63.28 L266.32,62.41 L268.31,61.55 L270.32,60.68 L272.33,59.81 L274.36,58.95 L276.39,58.08 L278.43,57.23 L280.48,56.38 L282.55,55.52 L284.62,54.65 L286.70,53.77 L288.79,52.87 L290.89,51.93 L293.00,50.98 L295.12,50.00 L297.25,49.02 L299.39,48.03 L301.54,47.05 L303.70,46.07 L305.87,45.07 L308.05,44.07 L310.24,43.07 L312.44,42.09 L314.64,41.13 L316.86,40.20 L319.09,39.32 L321.33,38.46 L323.57,37.62 L325.83,36.79 L328.09,35.95 L330.37,35.10 L332.66,34.23 L334.95,33.37 L337.26,32.50 L339.57,31.63 L341.89,30.75 L344.23,29.85 L346.57,28.95 L348.93,28.03 L351.29,27.11 L353.66,26.18 L356.04,25.25 L358.44,24.31 L360.84,23.36 L363.25,22.40 L365.67,21.44 L368.10,20.47 L370.54,19.49 L372.99,18.50 L375.45,17.51 L377.92,16.50 L380.40,15.49 L382.89,14.47 L385.39,13.44 L387.90,12.40" stroke="#4daf4a" stroke-width="2.3" fill="none" stroke-dasharray="7.6 7.6" stroke-linejoin="round"/>
<path d="M62.40,304.60 L62.40,304.57 L62.42,304.48 L62.44,304.32 L62.48,304.10 L62.52,303.82 L62.57,303.48 L62.64,303.09 L62.71,302.63 L62.79,302.12 L62.89,301.55 L62.99,300.92 L63.10,300.25 L63.22,299.52 L63.35,298.74 L63.49,297.85 L63.64,296.86 L63.80,295.80 L63.97,294.74 L64.15,293.77 L64.34,293.05 L64.54,292.60 L64.75,292.25 L64.97,291.98 L65.19,291.76 L65.43,291.57 L65.68,291.37 L65.94,291.14 L66.20,290.87 L66.48,290.51 L66.77,290.04 L67.06,289.55 L67.37,289.05 L67.68,288.55 L68.01,288.03 L68.34,287.51 L68.69,286.98 L69.04,286.44 L69.41,285.88 L69.78,285.31 L70.16,284.74 L70.56,284.15 L70.96,283.56 L71.37,282.95 L71.79,282.35 L72.23,281.73 L72.67,281.12 L73.12,280.50 L73.58,279.88 L74.05,279.26 L74.53,278.63 L75.02,278.02 L75.52,277.40 L76.03,276.78 L76.55,276.16 L77.08,275.52 L77.62,274.87 L78.17,274.22 L78.72,273.55 L79.29,272.87 L79.87,272.19 L80.46,271.50 L81.05,270.82 L81.66,270.12 L82.28,269.43 L82.90,268.72 L83.54,268.01 L84.18,267.30 L84.84,266.57 L85.50,265.82 L86.18,265.06 L86.86,264.27 L87.55,263.46 L88.26,262.64 L88.97,261.79 L89.69,260.94 L90.43,260.06 L91.17,259.18 L91.92,258.28 L92.68,257.38 L93.45,256.47 L94.24,255.55 L95.03,254.63 L95.83,253.71 L96.64,252.80 L97.46,251.89 L98.29,250.99 L99.13,250.10 L99.98,249.23 L100.84,248.37 L101.70,247.54 L102.58,246.72 L103.47,245.90 L104.37,245.08 L105.28,244.24 L106.19,243.40 L107.12,242.56 L108.06,241.71 L109.00,240.85 L109.96,239.99 L110.92,239.12 L111.90,238.25 L112.88,237.37 L113.88,236.48 L114.88,235.58 L115.90,234.66 L116.92,233.74 L117.95,232.80 L119.00,231.85 L120.05,230.89 L121.11,229.92 L122.19,228.95 L123.27,227.98 L124.36,227.01 L125.46,226.03 L126.57,225.05 L127.69,224.08 L128.82,223.10 L129.96,222.11 L131.11,221.11 L132.27,220.10 L133.44,219.09 L134.62,218.07 L135.81,217.04 L137.01,216.00 L138.22,214.96 L139.44,213.92 L140.66,212.87 L141.90,211.81 L143.15,210.75 L144.40,209.69 L145.67,208.63 L146.95,207.59 L148.23,206.55 L149.53,205.51 L150.83,204.48 L152.15,203.44 L153.47,202.41 L154.81,201.37 L156.15,200.33 L157.51,199.29 L158.87,198.23 L160.24,197.16 L161.63,196.10 L163.02,195.03 L164.42,193.97 L165.83,192.91 L167.25,191.84 L168.69,190.77 L170.13,189.69 L171.58,188.60 L173.04,187.50 L174.51,186.38 L175.99,185.23 L177.48,184.07 L178.98,182.88 L180.49,181.68 L182.01,180.47 L183.53,179.24 L185.07,178.01 L186.62,176.76 L188.18,175.52 L189.74,174.27 L191.32,173.02 L192.91,171.77 L194.51,170.53 L196.11,169.30 L197.73,168.06 L199.35,166.82 L200.99,165.57 L202.63,164.31 L204.29,163.05 L205.95,161.77 L207.63,160.47 L209.31,159.15 L211.00,157.82 L212.71,156.47 L214.42,155.12 L216.14,153.75 L217.87,152.37 L219.62,150.98 L221.37,149.58 L223.13,148.18 L224.90,146.76 L226.68,145.34 L228.47,143.90 L230.27,142.46 L232.08,141.01 L233.90,139.56 L235.73,138.09 L237.57,136.63 L239.42,135.15 L241.28,133.67 L243.14,132.19 L245.02,130.69 L246.91,129.19 L248.81,127.67 L250.71,126.14 L252.63,124.61 L254.56,123.08 L256.49,121.54 L258.44,119.99 L260.39,118.45 L262.36,116.91 L264.34,115.36 L266.32,113.81 L268.31,112.25 L270.32,110.70 L272.33,109.13 L274.36,107.56 L276.39,105.99 L278.43,104.42 L280.48,102.83 L282.55,101.25 L284.62,99.65 L286.70,98.07 L288.79,96.51 L290.89,94.92 L293.00,93.26 L295.12,91.55 L297.25,89.80 L299.39,88.02 L301.54,86.23 L303.70,84.42 L305.87,82.60 L308.05,80.77 L310.24,78.95 L312.44,77.13 L314.64,75.29 L316.86,73.45 L319.09,71.59 L321.33,69.73 L323.57,67.86 L325.83,65.99 L328.09,64.10 L330.37,62.21 L332.66,60.30 L334.95,58.39 L337.26,56.47 L339.57,54.54 L341.89,52.62 L344.23,50.69 L346.57,48.77 L348.93,46.85 L351.29,44.92 L353.66,42.99 L356.04,41.04 L358.44,39.06 L360.84,37.02 L363.25,34.93 L365.67,32.79 L368.10,30.62 L370.54,28.41 L372.99,26.18 L375.45,23.92 L377.92,21.63 L380.40,19.34 L382.89,17.03 L385.39,14.71 L387.90,12.40" stroke="#984ea3" stroke-width="2.3" fill="none" stroke-linejoin="round"/>
<path d="M62.40,304.60 L62.40,304.57 L62.42,304.47 L62.44,304.30 L62.48,304.07 L62.52,303.78 L62.57,303.42 L62.64,303.00 L62.71,302.52 L62.79,301.99 L62.89,301.40 L62.99,300.76 L63.10,300.07 L63.22,299.35 L63.35,298.59 L63.49,297.78 L63.64,296.95 L63.80,296.08 L63.97,295.18 L64.15,294.25 L64.34,293.29 L64.54,292.32 L64.75,291.36 L64.97,290.39 L65.19,289.40 L65.43,288.37 L65.68,287.25 L65.94,286.02 L66.20,284.63 L66.48,283.06 L66.77,281.36 L67.06,279.56 L67.37,277.69 L67.68,275.83 L68.01,274.03 L68.34,272.38 L68.69,270.94 L69.04,269.60 L69.41,268.29 L69.78,267.02 L70.16,265.79 L70.56,264.59 L70.96,263.42 L71.37,262.27 L71.79,261.14 L72.23,260.03 L72.67,258.93 L73.12,257.82 L73.58,256.69 L74.05,255.57 L74.53,254.46 L75.02,253.37 L75.52,252.30 L76.03,251.23 L76.55,250.18 L77.08,249.13 L77.62,248.07 L78.17,247.01 L78.72,245.94 L79.29,244.85 L79.87,243.72 L80.46,242.57 L81.05,241.40 L81.66,240.22 L82.28,239.03 L82.90,237.83 L83.54,236.63 L84.18,235.41 L84.84,234.17 L85.50,232.93 L86.18,231.66 L86.86,230.39 L87.55,229.09 L88.26,227.78 L88.97,226.46 L89.69,225.13 L90.43,223.79 L91.17,222.43 L91.92,221.06 L92.68,219.67 L93.45,218.26 L94.24,216.83 L95.03,215.39 L95.83,213.91 L96.64,212.41 L97.46,210.89 L98.29,209.35 L99.13,207.81 L99.98,206.26 L100.84,204.70 L101.70,203.16 L102.58,201.63 L103.47,200.09 L104.37,198.54 L105.28,196.99 L106.19,195.45 L107.12,193.91 L108.06,192.38 L109.00,190.86 L109.96,189.37 L110.92,187.89 L111.90,186.42 L112.88,184.97 L113.88,183.52 L114.88,182.08 L115.90,180.65 L116.92,179.23 L117.95,177.81 L119.00,176.39 L120.05,174.99 L121.11,173.61 L122.19,172.24 L123.27,170.87 L124.36,169.50 L125.46,168.12 L126.57,166.72 L127.69,165.30 L128.82,163.85 L129.96,162.37 L131.11,160.88 L132.27,159.38 L133.44,157.87 L134.62,156.37 L135.81,154.87 L137.01,153.38 L138.22,151.90 L139.44,150.40 L140.66,148.90 L141.90,147.41 L143.15,145.94 L144.40,144.50 L145.67,143.10 L146.95,141.75 L148.23,140.42 L149.53,139.10 L150.83,137.79 L152.15,136.49 L153.47,135.19 L154.81,133.90 L156.15,132.61 L157.51,131.34 L158.87,130.07 L160.24,128.80 L161.63,127.55 L163.02,126.30 L164.42,125.05 L165.83,123.81 L167.25,122.58 L168.69,121.36 L170.13,120.14 L171.58,118.92 L173.04,117.71 L174.51,116.51 L175.99,115.31 L177.48,114.11 L178.98,112.92 L180.49,111.73 L182.01,110.55 L183.53,109.39 L185.07,108.25 L186.62,107.13 L188.18,106.03 L189.74,104.94 L191.32,103.86 L192.91,102.78 L194.51,101.71 L196.11,100.66 L197.73,99.62 L199.35,98.60 L200.99,97.57 L202.63,96.55 L204.29,95.52 L205.95,94.48 L207.63,93.42 L209.31,92.35 L211.00,91.28 L212.71,90.20 L214.42,89.12 L216.14,88.05 L217.87,86.99 L219.62,85.95 L221.37,84.92 L223.13,83.90 L224.90,82.89 L226.68,81.88 L228.47,80.86 L230.27,79.84 L232.08,78.79 L233.90,77.72 L235.73,76.61 L237.57,75.48 L239.42,74.35 L241.28,73.24 L243.14,72.17 L245.02,71.15 L246.91,70.21 L248.81,69.31 L250.71,68.45 L252.63,67.61 L254.56,66.78 L256.49,65.96 L258.44,65.13 L260.39,64.27 L262.36,63.41 L264.34,62.55 L266.32,61.69 L268.31,60.82 L270.32,59.96 L272.33,59.09 L274.36,58.22 L276.39,57.36 L278.43,56.51 L280.48,55.66 L282.55,54.80 L284.62,53.93 L286.70,53.05 L288.79,52.14 L290.89,51.20 L293.00,50.25 L295.12,49.27 L297.25,48.29 L299.39,47.30 L301.54,46.31 L303.70,45.33 L305.87,44.34 L308.05,43.34 L310.24,42.34 L312.44,41.36 L314.64,40.40 L316.86,39.49 L319.09,38.61 L321.33,37.75 L323.57,36.91 L325.83,36.08 L328.09,35.24 L330.37,34.39 L332.66,33.53 L334.95,32.66 L337.26,31.79 L339.57,30.91 L341.89,30.03 L344.23,29.14 L346.57,28.25 L348.93,27.35 L351.29,26.45 L353.66,25.55 L356.04,24.64 L358.44,23.72 L360.84,22.80 L363.25,21.88 L365.67,20.95 L368.10,20.02 L370.54,19.09 L372.99,18.15 L375.45,17.20 L377.92,16.25 L380.40,15.29 L382.89,14.33 L385.39,13.37 L387.90,12.40" stroke="#984ea3" stroke-width="2.3" fill="none" stroke-dasharray="7.6 7.6" stroke-linejoin="round"/>
<path d="M62.40,304.60 L62.40,304.57 L62.42,304.48 L62.44,304.32 L62.48,304.10 L62.52,303.82 L62.57,303.49 L62.64,303.09 L62.71,302.64 L62.79,302.13 L62.89,301.57 L62.99,300.95 L63.10,300.28 L63.22,299.57 L63.35,298.80 L63.49,297.93 L63.64,296.95 L63.80,295.92 L63.97,294.88 L64.15,293.94 L64.34,293.26 L64.54,292.87 L64.75,292.60 L64.97,292.43 L65.19,292.34 L65.43,292.31 L65.68,292.30 L65.94,292.26 L66.20,292.14 L66.48,291.86 L66.77,291.40 L67.06,290.91 L67.37,290.42 L67.68,289.91 L68.01,289.39 L68.34,288.86 L68.69,288.33 L69.04,287.77 L69.41,287.21 L69.78,286.63 L70.16,286.04 L70.56,285.44 L70.96,284.83 L71.37,284.22 L71.79,283.59 L72.23,282.96 L72.67,282.33 L73.12,281.69 L73.58,281.05 L74.05,280.41 L74.53,279.78 L75.02,279.15 L75.52,278.53 L76.03,277.92 L76.55,277.31 L77.08,276.69 L77.62,276.06 L78.17,275.43 L78.72,274.80 L79.29,274.16 L79.87,273.51 L80.46,272.85 L81.05,272.18 L81.66,271.51 L82.28,270.84 L82.90,270.16 L83.54,269.46 L84.18,268.76 L84.84,268.04 L85.50,267.30 L86.18,266.53 L86.86,265.73 L87.55,264.90 L88.26,264.05 L88.97,263.18 L89.69,262.29 L90.43,261.38 L91.17,260.45 L91.92,259.51 L92.68,258.55 L93.45,257.59 L94.24,256.62 L95.03,255.65 L95.83,254.68 L96.64,253.71 L97.46,252.76 L98.29,251.81 L99.13,250.89 L99.98,249.99 L100.84,249.11 L101.70,248.27 L102.58,247.45 L103.47,246.63 L104.37,245.80 L105.28,244.98 L106.19,244.15 L107.12,243.31 L108.06,242.48 L109.00,241.64 L109.96,240.80 L110.92,239.95 L111.90,239.10 L112.88,238.24 L113.88,237.37 L114.88,236.50 L115.90,235.62 L116.92,234.73 L117.95,233.83 L119.00,232.92 L120.05,232.00 L121.11,231.07 L122.19,230.14 L123.27,229.21 L124.36,228.26 L125.46,227.31 L126.57,226.36 L127.69,225.39 L128.82,224.42 L129.96,223.44 L131.11,222.46 L132.27,221.46 L133.44,220.46 L134.62,219.45 L135.81,218.44 L137.01,217.42 L138.22,216.39 L139.44,215.35 L140.66,214.31 L141.90,213.26 L143.15,212.21 L144.40,211.15 L145.67,210.10 L146.95,209.05 L148.23,208.02 L149.53,206.98 L150.83,205.95 L152.15,204.92 L153.47,203.88 L154.81,202.85 L156.15,201.81 L157.51,200.76 L158.87,199.70 L160.24,198.63 L161.63,197.56 L163.02,196.50 L164.42,195.43 L165.83,194.37 L167.25,193.30 L168.69,192.23 L170.13,191.14 L171.58,190.05 L173.04,188.94 L174.51,187.81 L175.99,186.67 L177.48,185.50 L178.98,184.31 L180.49,183.11 L182.01,181.89 L183.53,180.66 L185.07,179.41 L186.62,178.17 L188.18,176.91 L189.74,175.66 L191.32,174.41 L192.91,173.16 L194.51,171.92 L196.11,170.67 L197.73,169.43 L199.35,168.18 L200.99,166.93 L202.63,165.67 L204.29,164.39 L205.95,163.10 L207.63,161.80 L209.31,160.47 L211.00,159.13 L212.71,157.77 L214.42,156.41 L216.14,155.03 L217.87,153.64 L219.62,152.24 L221.37,150.83 L223.13,149.41 L224.90,147.98 L226.68,146.54 L228.47,145.10 L230.27,143.64 L232.08,142.18 L233.90,140.71 L235.73,139.23 L237.57,137.75 L239.42,136.26 L241.28,134.77 L243.14,133.27 L245.02,131.76 L246.91,130.24 L248.81,128.71 L250.71,127.17 L252.63,125.63 L254.56,124.08 L256.49,122.52 L258.44,120.97 L260.39,119.42 L262.36,117.86 L264.34,116.30 L266.32,114.74 L268.31,113.17 L270.32,111.60 L272.33,110.03 L274.36,108.45 L276.39,106.87 L278.43,105.28 L280.48,103.69 L282.55,102.09 L284.62,100.49 L286.70,98.90 L288.79,97.32 L290.89,95.72 L293.00,94.05 L295.12,92.33 L297.25,90.57 L299.39,88.78 L301.54,86.98 L303.70,85.16 L305.87,83.34 L308.05,81.51 L310.24,79.68 L312.44,77.85 L314.64,76.01 L316.86,74.15 L319.09,72.29 L321.33,70.43 L323.57,68.55 L325.83,66.67 L328.09,64.77 L330.37,62.87 L332.66,60.95 L334.95,59.03 L337.26,57.10 L339.57,55.16 L341.89,53.23 L344.23,51.29 L346.57,49.35 L348.93,47.41 L351.29,45.46 L353.66,43.51 L356.04,41.55 L358.44,39.54 L360.84,37.47 L363.25,35.35 L365.67,33.19 L368.10,30.99 L370.54,28.75 L372.99,26.47 L375.45,24.17 L377.92,21.84 L380.40,19.50 L382.89,17.14 L385.39,14.77 L387.90,12.40" stroke="#ff7f00" stroke-width="2.3" fill="none" stroke-linejoin="round"/>
<path d="M62.40,304.60 L62.40,304.57 L62.42,304.48 L62.44,304.32 L62.48,304.10 L62.52,303.82 L62.57,303.49 L62.64,303.09 L62.71,302.64 L62.79,302.13 L62.89,301.57 L62.99,300.95 L63.10,300.28 L63.22,299.57 L63.35,298.80 L63.49,297.93 L63.64,296.95 L63.80,295.92 L63.97,294.88 L64.15,293.94 L64.34,293.26 L64.54,292.87 L64.75,292.60 L64.97,292.43 L65.19,292.34 L65.43,292.31 L65.68,292.30 L65.94,292.26 L66.20,292.14 L66.48,291.86 L66.77,291.40 L67.06,290.91 L67.37,290.42 L67.68,289.91 L68.01,289.39 L68.34,288.86 L68.69,288.33 L69.04,287.77 L69.41,287.21 L69.78,286.63 L70.16,286.04 L70.56,285.44 L70.96,284.83 L71.37,284.22 L71.79,283.59 L72.23,282.96 L72.67,282.33 L73.12,281.69 L73.58,281.05 L74.05,280.41 L74.53,279.78 L75.02,279.15 L75.52,278.53 L76.03,277.92 L76.55,277.31 L77.08,276.69 L77.62,276.06 L78.17,275.43 L78.72,274.80 L79.29,274.16 L79.87,273.51 L80.46,272.85 L81.05,272.18 L81.66,271.51 L82.28,270.84 L82.90,270.16 L83.54,269.46 L84.18,268.76 L84.84,268.04 L85.50,267.30 L86.18,266.53 L86.86,265.73 L87.55,264.90 L88.26,264.05 L88.97,263.18 L89.69,262.29 L90.43,261.38 L91.17,260.45 L91.92,259.51 L92.68,258.55 L93.45,257.59 L94.24,256.62 L95.03,255.65 L95.83,254.68 L96.64,253.71 L97.46,252.76 L98.29,251.81 L99.13,250.89 L99.98,249.99 L100.84,249.11 L101.70,248.27 L102.58,247.45 L103.47,246.63 L104.37,245.80 L105.28,244.98 L106.19,244.15 L107.12,243.31 L108.06,242.48 L109.00,241.64 L109.96,240.80 L110.92,239.95 L111.90,239.10 L112.88,238.24 L113.88,237.37 L114.88,236.50 L115.90,235.62 L116.92,234.73 L117.95,233.83 L119.00,232.92 L120.05,232.00 L121.11,231.07 L122.19,230.14 L123.27,229.21 L124.36,228.26 L125.46,227.31 L126.57,226.36 L127.69,225.39 L128.82,224.42 L129.96,223.44 L131.11,222.46 L132.27,221.46 L133.44,220.46 L134.62,219.45 L135.81,218.44 L137.01,217.42 L138.22,216.39 L139.44,215.35 L140.66,214.31 L141.90,213.26 L143.15,212.21 L144.40,211.15 L145.67,210.10 L146.95,209.05 L148.23,208.02 L149.53,206.98 L150.83,205.95 L152.15,204.92 L153.47,203.88 L154.81,202.85 L156.15,201.81 L157.51,200.76 L158.87,199.70 L160.24,198.63 L161.63,197.56 L163.02,196.50 L164.42,195.43 L165.83,194.37 L167.25,193.30 L168.69,192.23 L170.13,191.14 L171.58,190.05 L173.04,188.94 L174.51,187.81 L175.99,186.67 L177.48,185.50 L178.98,184.31 L180.49,183.11 L182.01,181.89 L183.53,180.66 L185.07,179.41 L186.62,178.17 L188.18,176.91 L189.74,175.66 L191.32,174.41 L192.91,173.16 L194.51,171.92 L196.11,170.67 L197.73,169.43 L199.35,168.18 L200.99,166.93 L202.63,165.67 L204.29,164.39 L205.95,163.10 L207.63,161.80 L209.31,160.47 L211.00,159.13 L212.71,157.77 L214.42,156.41 L216.14,155.03 L217.87,153.64 L219.62,152.24 L221.37,150.83 L223.13,149.41 L224.90,147.98 L226.68,146.54 L228.47,145.10 L230.27,143.64 L232.08,142.18 L233.90,140.71 L235.73,139.23 L237.57,137.75 L239.42,136.26 L241.28,134.77 L243.14,133.27 L245.02,131.76 L246.91,130.24 L248.81,128.71 L250.71,127.17 L252.63,125.63 L254.56,124.08 L256.49,122.52 L258.44,120.97 L260.39,119.42 L262.36,117.86 L264.34,116.30 L266.32,114.74 L268.31,113.17 L270.32,111.60 L272.33,110.03 L274.36,108.45 L276.39,106.87 L278.43,105.28 L280.48,103.69 L282.55,102.09 L284.62,100.49 L286.70,98.90 L288.79,97.32 L290.89,95.72 L293.00,94.05 L295.12,92.33 L297.25,90.57 L299.39,88.78 L301.54,86.98 L303.70,85.16 L305.87,83.34 L308.05,81.51 L310.24,79.68 L312.44,77.85 L314.64,76.01 L316.86,74.15 L319.09,72.29 L321.33,70.43 L323.57,68.55 L325.83,66.67 L328.09,64.77 L330.37,62.87 L332.66,60.95 L334.95,59.03 L337.26,57.10 L339.57,55.16 L341.89,53.23 L344.23,51.29 L346.57,49.35 L348.93,47.41 L351.29,45.46 L353.66,43.51 L356.04,41.55 L358.44,39.54 L360.84,37.47 L363.25,35.35 L365.67,33.19 L368.10,30.99 L370.54,28.75 L372.99,26.47 L375.45,24.17 L377.92,21.84 L380.40,19.50 L382.89,17.14 L385.39,14.77 L387.90,12.40" stroke="#ff7f00" stroke-width="2.3" fill="none" stroke-dasharray="7.6 7.6" stroke-linejoin="round"/>
<path d="M62.40,304.60 L62.40,304.57 L62.42,304.48 L62.44,304.32 L62.48,304.10 L62.52,303.82 L62.57,303.48 L62.64,303.08 L62.71,302.62 L62.79,302.11 L62.89,301.53 L62.99,300.90 L63.10,300.21 L63.22,299.47 L63.35,298.68 L63.49,297.77 L63.64,296.76 L63.80,295.69 L63.97,294.60 L64.15,293.61 L64.34,292.84 L64.54,292.34 L64.75,291.90 L64.97,291.53 L65.19,291.18 L65.43,290.83 L65.68,290.44 L65.94,290.03 L66.20,289.61 L66.48,289.16 L66.77,288.68 L67.06,288.19 L67.37,287.69 L67.68,287.19 L68.01,286.68 L68.34,286.16 L68.69,285.64 L69.04,285.10 L69.41,284.55 L69.78,284.00 L70.16,283.43 L70.56,282.86 L70.96,282.28 L71.37,281.69 L71.79,281.10 L72.23,280.50 L72.67,279.91 L73.12,279.31 L73.58,278.70 L74.05,278.10 L74.53,277.49 L75.02,276.88 L75.52,276.26 L76.03,275.64 L76.55,275.01 L77.08,274.36 L77.62,273.69 L78.17,273.00 L78.72,272.29 L79.29,271.58 L79.87,270.87 L80.46,270.16 L81.05,269.45 L81.66,268.73 L82.28,268.01 L82.90,267.29 L83.54,266.56 L84.18,265.83 L84.84,265.10 L85.50,264.35 L86.18,263.58 L86.86,262.81 L87.55,262.02 L88.26,261.22 L88.97,260.41 L89.69,259.58 L90.43,258.75 L91.17,257.91 L91.92,257.06 L92.68,256.21 L93.45,255.35 L94.24,254.48 L95.03,253.62 L95.83,252.75 L96.64,251.89 L97.46,251.02 L98.29,250.16 L99.13,249.31 L99.98,248.47 L100.84,247.64 L101.70,246.81 L102.58,246.00 L103.47,245.18 L104.37,244.35 L105.28,243.51 L106.19,242.66 L107.12,241.80 L108.06,240.94 L109.00,240.06 L109.96,239.18 L110.92,238.29 L111.90,237.40 L112.88,236.50 L113.88,235.58 L114.88,234.66 L115.90,233.71 L116.92,232.75 L117.95,231.77 L119.00,230.78 L120.05,229.78 L121.11,228.77 L122.19,227.77 L123.27,226.76 L124.36,225.75 L125.46,224.75 L126.57,223.75 L127.69,222.76 L128.82,221.77 L129.96,220.77 L131.11,219.76 L132.27,218.74 L133.44,217.71 L134.62,216.68 L135.81,215.64 L137.01,214.59 L138.22,213.54 L139.44,212.48 L140.66,211.42 L141.90,210.36 L143.15,209.29 L144.40,208.23 L145.67,207.17 L146.95,206.12 L148.23,205.08 L149.53,204.04 L150.83,203.00 L152.15,201.97 L153.47,200.94 L154.81,199.90 L156.15,198.86 L157.51,197.82 L158.87,196.76 L160.24,195.70 L161.63,194.63 L163.02,193.57 L164.42,192.51 L165.83,191.45 L167.25,190.39 L168.69,189.32 L170.13,188.24 L171.58,187.16 L173.04,186.06 L174.51,184.94 L175.99,183.80 L177.48,182.64 L178.98,181.46 L180.49,180.26 L182.01,179.05 L183.53,177.83 L185.07,176.60 L186.62,175.36 L188.18,174.12 L189.74,172.87 L191.32,171.63 L192.91,170.39 L194.51,169.15 L196.11,167.92 L197.73,166.68 L199.35,165.45 L200.99,164.21 L202.63,162.96 L204.29,161.70 L205.95,160.43 L207.63,159.14 L209.31,157.83 L211.00,156.51 L212.71,155.17 L214.42,153.82 L216.14,152.47 L217.87,151.10 L219.62,149.72 L221.37,148.34 L223.13,146.94 L224.90,145.54 L226.68,144.13 L228.47,142.71 L230.27,141.28 L232.08,139.84 L233.90,138.40 L235.73,136.95 L237.57,135.50 L239.42,134.04 L241.28,132.58 L243.14,131.11 L245.02,129.63 L246.91,128.13 L248.81,126.63 L250.71,125.12 L252.63,123.60 L254.56,122.07 L256.49,120.55 L258.44,119.02 L260.39,117.49 L262.36,115.96 L264.34,114.42 L266.32,112.88 L268.31,111.34 L270.32,109.79 L272.33,108.24 L274.36,106.68 L276.39,105.12 L278.43,103.55 L280.48,101.98 L282.55,100.40 L284.62,98.82 L286.70,97.25 L288.79,95.70 L290.89,94.12 L293.00,92.47 L295.12,90.76 L297.25,89.02 L299.39,87.26 L301.54,85.47 L303.70,83.67 L305.87,81.86 L308.05,80.04 L310.24,78.23 L312.44,76.41 L314.64,74.58 L316.86,72.74 L319.09,70.89 L321.33,69.04 L323.57,67.18 L325.83,65.31 L328.09,63.43 L330.37,61.54 L332.66,59.64 L334.95,57.74 L337.26,55.83 L339.57,53.92 L341.89,52.01 L344.23,50.10 L346.57,48.19 L348.93,46.28 L351.29,44.37 L353.66,42.46 L356.04,40.54 L358.44,38.58 L360.84,36.56 L363.25,34.50 L365.67,32.39 L368.10,30.25 L370.54,28.08 L372.99,25.88 L375.45,23.66 L377.92,21.43 L380.40,19.17 L382.89,16.92 L385.39,14.66 L387.90,12.40" stroke="#ffff33" stroke-width="2.3" fill="none" stroke-linejoin="round"/>
<path d="M62.40,304.60 L62.40,304.57 L62.42,304.47 L62.44,304.31 L62.48,304.08 L62.52,303.79 L62.57,303.43 L62.64,303.02 L62.71,302.55 L62.79,302.03 L62.89,301.47 L62.99,300.87 L63.10,300.25 L63.22,299.63 L63.35,299.02 L63.49,298.40 L63.64,297.78 L63.80,297.15 L63.97,296.52 L64.15,295.89 L64.34,295.25 L64.54,294.61 L64.75,293.97 L64.97,293.31 L65.19,292.64 L65.43,291.95 L65.68,291.26 L65.94,290.55 L66.20,289.85 L66.48,289.14 L66.77,288.42 L67.06,287.71 L67.37,286.99 L67.68,286.27 L68.01,285.55 L68.34,284.83 L68.69,284.10 L69.04,283.39 L69.41,282.68 L69.78,281.97 L70.16,281.27 L70.56,280.57 L70.96,279.86 L71.37,279.15 L71.79,278.44 L72.23,277.71 L72.67,276.97 L73.12,276.21 L73.58,275.42 L74.05,274.59 L74.53,273.73 L75.02,272.81 L75.52,271.85 L76.03,270.83 L76.55,269.77 L77.08,268.68 L77.62,267.55 L78.17,266.40 L78.72,265.23 L79.29,264.05 L79.87,262.87 L80.46,261.70 L81.05,260.55 L81.66,259.44 L82.28,258.37 L82.90,257.34 L83.54,256.35 L84.18,255.38 L84.84,254.43 L85.50,253.49 L86.18,252.55 L86.86,251.62 L87.55,250.66 L88.26,249.69 L88.97,248.68 L89.69,247.62 L90.43,246.53 L91.17,245.41 L91.92,244.27 L92.68,243.10 L93.45,241.92 L94.24,240.72 L95.03,239.50 L95.83,238.26 L96.64,237.01 L97.46,235.76 L98.29,234.49 L99.13,233.22 L99.98,231.94 L100.84,230.64 L101.70,229.34 L102.58,228.01 L103.47,226.68 L104.37,225.33 L105.28,223.97 L106.19,222.59 L107.12,221.19 L108.06,219.77 L109.00,218.32 L109.96,216.84 L110.92,215.37 L111.90,213.89 L112.88,212.42 L113.88,210.99 L114.88,209.57 L115.90,208.17 L116.92,206.78 L117.95,205.39 L119.00,204.01 L120.05,202.64 L121.11,201.26 L122.19,199.90 L123.27,198.53 L124.36,197.16 L125.46,195.80 L126.57,194.45 L127.69,193.10 L128.82,191.76 L129.96,190.42 L131.11,189.09 L132.27,187.74 L133.44,186.39 L134.62,185.02 L135.81,183.64 L137.01,182.23 L138.22,180.81 L139.44,179.39 L140.66,177.98 L141.90,176.57 L143.15,175.19 L144.40,173.84 L145.67,172.52 L146.95,171.19 L148.23,169.86 L149.53,168.52 L150.83,167.17 L152.15,165.82 L153.47,164.47 L154.81,163.10 L156.15,161.74 L157.51,160.37 L158.87,159.00 L160.24,157.62 L161.63,156.24 L163.02,154.85 L164.42,153.47 L165.83,152.08 L167.25,150.69 L168.69,149.30 L170.13,147.90 L171.58,146.51 L173.04,145.11 L174.51,143.72 L175.99,142.32 L177.48,140.92 L178.98,139.53 L180.49,138.14 L182.01,136.75 L183.53,135.36 L185.07,133.97 L186.62,132.59 L188.18,131.21 L189.74,129.83 L191.32,128.46 L192.91,127.10 L194.51,125.74 L196.11,124.38 L197.73,123.03 L199.35,121.69 L200.99,120.36 L202.63,119.04 L204.29,117.72 L205.95,116.41 L207.63,115.12 L209.31,113.83 L211.00,112.56 L212.71,111.30 L214.42,110.10 L216.14,108.94 L217.87,107.81 L219.62,106.69 L221.37,105.58 L223.13,104.45 L224.90,103.31 L226.68,102.17 L228.47,101.03 L230.27,99.89 L232.08,98.75 L233.90,97.59 L235.73,96.41 L237.57,95.20 L239.42,93.95 L241.28,92.68 L243.14,91.39 L245.02,90.10 L246.91,88.81 L248.81,87.55 L250.71,86.30 L252.63,85.05 L254.56,83.81 L256.49,82.57 L258.44,81.34 L260.39,80.11 L262.36,78.88 L264.34,77.66 L266.32,76.44 L268.31,75.22 L270.32,74.01 L272.33,72.81 L274.36,71.63 L276.39,70.45 L278.43,69.28 L280.48,68.12 L282.55,66.97 L284.62,65.84 L286.70,64.71 L288.79,63.60 L290.89,62.51 L293.00,61.43 L295.12,60.37 L297.25,59.31 L299.39,58.25 L301.54,57.19 L303.70,56.11 L305.87,55.05 L308.05,53.99 L310.24,52.92 L312.44,51.83 L314.64,50.72 L316.86,49.58 L319.09,48.40 L321.33,47.19 L323.57,45.97 L325.83,44.73 L328.09,43.49 L330.37,42.26 L332.66,41.02 L334.95,39.77 L337.26,38.52 L339.57,37.27 L341.89,36.03 L344.23,34.79 L346.57,33.56 L348.93,32.32 L351.29,31.08 L353.66,29.84 L356.04,28.59 L358.44,27.35 L360.84,26.10 L363.25,24.85 L365.67,23.61 L368.10,22.36 L370.54,21.11 L372.99,19.86 L375.45,18.62 L377.92,17.37 L380.40,16.13 L382.89,14.88 L385.39,13.64 L387.90,12.40" stroke="#ffff33" stroke-width="2.3" fill="none" stroke-dasharray="7.6 7.6" stroke-linejoin="round"/>
<path d="M62.40,304.60 L62.40,304.57 L62.42,304.48 L62.44,304.32 L62.48,304.10 L62.52,303.82 L62.57,303.48 L62.64,303.07 L62.71,302.61 L62.79,302.08 L62.89,301.50 L62.99,300.85 L63.10,300.15 L63.22,299.39 L63.35,298.56 L63.49,297.63 L63.64,296.58 L63.80,295.46 L63.97,294.33 L64.15,293.26 L64.34,292.38 L64.54,291.69 L64.75,291.04 L64.97,290.41 L65.19,289.82 L65.43,289.24 L65.68,288.68 L65.94,288.12 L66.20,287.56 L66.48,286.97 L66.77,286.35 L67.06,285.73 L67.37,285.10 L67.68,284.46 L68.01,283.82 L68.34,283.18 L68.69,282.53 L69.04,281.87 L69.41,281.21 L69.78,280.54 L70.16,279.86 L70.56,279.18 L70.96,278.49 L71.37,277.80 L71.79,277.10 L72.23,276.40 L72.67,275.69 L73.12,274.98 L73.58,274.26 L74.05,273.54 L74.53,272.82 L75.02,272.09 L75.52,271.37 L76.03,270.65 L76.55,269.93 L77.08,269.20 L77.62,268.47 L78.17,267.75 L78.72,267.03 L79.29,266.32 L79.87,265.61 L80.46,264.90 L81.05,264.19 L81.66,263.48 L82.28,262.76 L82.90,262.04 L83.54,261.32 L84.18,260.59 L84.84,259.86 L85.50,259.12 L86.18,258.36 L86.86,257.59 L87.55,256.81 L88.26,256.02 L88.97,255.22 L89.69,254.40 L90.43,253.58 L91.17,252.75 L91.92,251.91 L92.68,251.07 L93.45,250.22 L94.24,249.37 L95.03,248.52 L95.83,247.67 L96.64,246.82 L97.46,245.97 L98.29,245.13 L99.13,244.30 L99.98,243.47 L100.84,242.65 L101.70,241.85 L102.58,241.06 L103.47,240.27 L104.37,239.48 L105.28,238.68 L106.19,237.87 L107.12,237.06 L108.06,236.25 L109.00,235.43 L109.96,234.61 L110.92,233.78 L111.90,232.94 L112.88,232.10 L113.88,231.25 L114.88,230.39 L115.90,229.52 L116.92,228.65 L117.95,227.76 L119.00,226.87 L120.05,225.96 L121.11,225.05 L122.19,224.13 L123.27,223.20 L124.36,222.26 L125.46,221.32 L126.57,220.37 L127.69,219.40 L128.82,218.43 L129.96,217.44 L131.11,216.45 L132.27,215.44 L133.44,214.43 L134.62,213.41 L135.81,212.37 L137.01,211.34 L138.22,210.29 L139.44,209.24 L140.66,208.19 L141.90,207.13 L143.15,206.07 L144.40,205.02 L145.67,203.96 L146.95,202.92 L148.23,201.88 L149.53,200.85 L150.83,199.82 L152.15,198.79 L153.47,197.76 L154.81,196.73 L156.15,195.69 L157.51,194.65 L158.87,193.60 L160.24,192.54 L161.63,191.48 L163.02,190.42 L164.42,189.36 L165.83,188.30 L167.25,187.25 L168.69,186.18 L170.13,185.11 L171.58,184.02 L173.04,182.93 L174.51,181.81 L175.99,180.68 L177.48,179.52 L178.98,178.34 L180.49,177.15 L182.01,175.94 L183.53,174.73 L185.07,173.50 L186.62,172.27 L188.18,171.03 L189.74,169.79 L191.32,168.55 L192.91,167.32 L194.51,166.09 L196.11,164.87 L197.73,163.65 L199.35,162.43 L200.99,161.21 L202.63,159.99 L204.29,158.75 L205.95,157.50 L207.63,156.24 L209.31,154.95 L211.00,153.66 L212.71,152.35 L214.42,151.03 L216.14,149.71 L217.87,148.37 L219.62,147.02 L221.37,145.66 L223.13,144.29 L224.90,142.92 L226.68,141.53 L228.47,140.13 L230.27,138.73 L232.08,137.31 L233.90,135.89 L235.73,134.45 L237.57,133.01 L239.42,131.55 L241.28,130.09 L243.14,128.62 L245.02,127.14 L246.91,125.65 L248.81,124.15 L250.71,122.63 L252.63,121.12 L254.56,119.59 L256.49,118.06 L258.44,116.53 L260.39,115.00 L262.36,113.47 L264.34,111.94 L266.32,110.40 L268.31,108.85 L270.32,107.30 L272.33,105.75 L274.36,104.19 L276.39,102.63 L278.43,101.07 L280.48,99.50 L282.55,97.92 L284.62,96.34 L286.70,94.77 L288.79,93.21 L290.89,91.64 L293.00,89.99 L295.12,88.28 L297.25,86.54 L299.39,84.77 L301.54,82.99 L303.70,81.18 L305.87,79.37 L308.05,77.56 L310.24,75.74 L312.44,73.92 L314.64,72.09 L316.86,70.26 L319.09,68.41 L321.33,66.55 L323.57,64.69 L325.83,62.82 L328.09,60.95 L330.37,59.06 L332.66,57.16 L334.95,55.26 L337.26,53.35 L339.57,51.44 L341.89,49.52 L344.23,47.61 L346.57,45.70 L348.93,43.80 L351.29,41.89 L353.66,39.98 L356.04,38.06 L358.44,36.13 L360.84,34.19 L363.25,32.25 L365.67,30.29 L368.10,28.33 L370.54,26.36 L372.99,24.39 L375.45,22.41 L377.92,20.42 L380.40,18.43 L382.89,16.42 L385.39,14.42 L387.90,12.40" stroke="#a65628" stroke-width="2.3" fill="none" stroke-linejoin="round"/>
<path d="M62.40,304.60 L62.40,304.57 L62.42,304.48 L62.44,304.32 L62.48,304.10 L62.52,303.82 L62.57,303.49 L62.64,303.09 L62.71,302.63 L62.79,302.12 L62.89,301.55 L62.99,300.93 L63.10,300.26 L63.22,299.53 L63.35,298.76 L63.49,297.87 L63.64,296.89 L63.80,295.84 L63.97,294.78 L64.15,293.82 L64.34,293.11 L64.54,292.68 L64.75,292.36 L64.97,292.11 L65.19,291.94 L65.43,291.79 L65.68,291.65 L65.94,291.48 L66.20,291.25 L66.48,290.92 L66.77,290.45 L67.06,289.96 L67.37,289.46 L67.68,288.96 L68.01,288.44 L68.34,287.92 L68.69,287.38 L69.04,286.84 L69.41,286.28 L69.78,285.71 L70.16,285.13 L70.56,284.54 L70.96,283.94 L71.37,283.33 L71.79,282.72 L72.23,282.10 L72.67,281.48 L73.12,280.86 L73.58,280.23 L74.05,279.60 L74.53,278.98 L75.02,278.36 L75.52,277.74 L76.03,277.12 L76.55,276.50 L77.08,275.87 L77.62,275.23 L78.17,274.58 L78.72,273.92 L79.29,273.26 L79.87,272.59 L80.46,271.91 L81.05,271.23 L81.66,270.54 L82.28,269.85 L82.90,269.15 L83.54,268.45 L84.18,267.74 L84.84,267.01 L85.50,266.27 L86.18,265.50 L86.86,264.71 L87.55,263.89 L88.26,263.06 L88.97,262.21 L89.69,261.34 L90.43,260.46 L91.17,259.56 L91.92,258.65 L92.68,257.73 L93.45,256.80 L94.24,255.87 L95.03,254.94 L95.83,254.00 L96.64,253.07 L97.46,252.15 L98.29,251.24 L99.13,250.34 L99.98,249.46 L100.84,248.60 L101.70,247.76 L102.58,246.94 L103.47,246.12 L104.37,245.29 L105.28,244.46 L106.19,243.63 L107.12,242.79 L108.06,241.94 L109.00,241.09 L109.96,240.23 L110.92,239.37 L111.90,237.84 L112.88,236.94 L113.88,236.02 L114.88,235.08 L115.90,234.13 L116.92,233.16 L117.95,232.17 L119.00,231.17 L120.05,230.16 L121.11,229.15 L122.19,228.13 L123.27,227.11 L124.36,226.10 L125.46,225.09 L126.57,224.09 L127.69,223.10 L128.82,222.10 L129.96,221.10 L131.11,220.09 L132.27,219.07 L133.44,218.04 L134.62,217.01 L135.81,215.96 L137.01,214.92 L138.22,213.86 L139.44,212.80 L140.66,211.74 L141.90,210.68 L143.15,209.61 L144.40,208.55 L145.67,207.49 L146.95,206.44 L148.23,205.40 L149.53,204.36 L150.83,203.32 L152.15,202.29 L153.47,201.26 L154.81,200.22 L156.15,199.18 L157.51,198.13 L158.87,197.08 L160.24,196.01 L161.63,194.95 L163.02,193.88 L164.42,192.82 L165.83,191.76 L167.25,190.70 L168.69,189.63 L170.13,188.56 L171.58,187.47 L173.04,186.37 L174.51,185.25 L175.99,184.11 L177.48,182.95 L178.98,181.77 L180.49,180.57 L182.01,179.36 L183.53,178.14 L185.07,176.91 L186.62,175.67 L188.18,174.43 L189.74,173.18 L191.32,171.93 L192.91,170.69 L194.51,169.46 L196.11,168.17 L197.73,166.60 L199.35,165.04 L200.99,163.47 L202.63,161.89 L204.29,160.31 L205.95,158.72 L207.63,157.12 L209.31,155.50 L211.00,153.87 L212.71,152.35 L214.42,151.03 L216.14,149.71 L217.87,148.37 L219.62,147.02 L221.37,145.66 L223.13,144.29 L224.90,142.92 L226.68,141.53 L228.47,140.13 L230.27,138.73 L232.08,137.31 L233.90,135.89 L235.73,134.45 L237.57,133.01 L239.42,131.55 L241.28,130.09 L243.14,128.62 L245.02,127.14 L246.91,125.65 L248.81,124.15 L250.71,122.63 L252.63,121.12 L254.56,119.59 L256.49,118.06 L258.44,116.53 L260.39,115.00 L262.36,113.47 L264.34,111.94 L266.32,110.40 L268.31,108.85 L270.32,107.30 L272.33,105.75 L274.36,104.19 L276.39,102.63 L278.43,101.07 L280.48,99.50 L282.55,97.92 L284.62,96.34 L286.70,94.77 L288.79,93.21 L290.89,91.64 L293.00,89.99 L295.12,88.28 L297.25,86.54 L299.39,84.77 L301.54,82.99 L303.70,81.18 L305.87,79.37 L308.05,77.56 L310.24,75.74 L312.44,73.92 L314.64,72.09 L316.86,70.26 L319.09,68.41 L321.33,66.55 L323.57,64.69 L325.83,62.82 L328.09,60.95 L330.37,59.06 L332.66,57.16 L334.95,55.26 L337.26,53.35 L339.57,51.44 L341.89,49.52 L344.23,47.61 L346.57,45.70 L348.93,43.80 L351.29,41.89 L353.66,39.98 L356.04,38.06 L358.44,36.13 L360.84,34.19 L363.25,32.25 L365.67,30.29 L368.10,28.33 L370.54,26.36 L372.99,24.39 L375.45,22.41 L377.92,20.42 L380.40,18.43 L382.89,16.42 L385.39,14.42 L387.90,12.40" stroke="#a65628" stroke-width="2.3" fill="none" stroke-dasharray="7.6 7.6" stroke-linejoin="round"/>
<rect x="49.5" y="0.8" width="351.5" height="315.59999999999997" fill="none" stroke="#383838" stroke-width="1.1"/>
<line x1="62.40" y1="316.4" x2="62.40" y2="322.4" stroke="#383838" stroke-width="1"/>
<line x1="49.5" y1="304.60" x2="43.5" y2="304.60" stroke="#383838" stroke-width="1"/>
<text x="62.40" y="337.6" text-anchor="middle" class="ax">0.0</text>
<text transform="translate(36.4,304.60) rotate(-90)" text-anchor="middle" class="ax">0.0</text>
<line x1="127.50" y1="316.4" x2="127.50" y2="322.4" stroke="#383838" stroke-width="1"/>
<line x1="49.5" y1="246.16" x2="43.5" y2="246.16" stroke="#383838" stroke-width="1"/>
<text x="127.50" y="337.6" text-anchor="middle" class="ax">0.2</text>
<text transform="translate(36.4,246.16) rotate(-90)" text-anchor="middle" class="ax">0.2</text>
<line x1="192.60" y1="316.4" x2="192.60" y2="322.4" stroke="#383838" stroke-width="1"/>
<line x1="49.5" y1="187.72" x2="43.5" y2="187.72" stroke="#383838" stroke-width="1"/>
<text x="192.60" y="337.6" text-anchor="middle" class="ax">0.4</text>
<text transform="translate(36.4,187.72) rotate(-90)" text-anchor="middle" class="ax">0.4</text>
<line x1="257.70" y1="316.4" x2="257.70" y2="322.4" stroke="#383838" stroke-width="1"/>
<line x1="49.5" y1="129.28" x2="43.5" y2="129.28" stroke="#383838" stroke-width="1"/>
<text x="257.70" y="337.6" text-anchor="middle" class="ax">0.6</text>
<text transform="translate(36.4,129.28) rotate(-90)" text-anchor="middle" class="ax">0.6</text>
<line x1="322.80" y1="316.4" x2="322.80" y2="322.4" stroke="#383838" stroke-width="1"/>
<line x1="49.5" y1="70.84" x2="43.5" y2="70.84" stroke="#383838" stroke-width="1"/>
<text x="322.80" y="337.6" text-anchor="middle" class="ax">0.8</text>
<text transform="translate(36.4,70.84) rotate(-90)" text-anchor="middle" class="ax">0.8</text>
<line x1="387.90" y1="316.4" x2="387.90" y2="322.4" stroke="#383838" stroke-width="1"/>
<line x1="49.5" y1="12.40" x2="43.5" y2="12.40" stroke="#383838" stroke-width="1"/>
<text x="387.90" y="337.6" text-anchor="middle" class="ax">1.0</text>
<text transform="translate(36.4,12.40) rotate(-90)" text-anchor="middle" class="ax">1.0</text>
<text x="225" y="361.2" text-anchor="middle" class="lab" style="letter-spacing:0.3px">p−value</text>
<text transform="translate(11.6,158.4) rotate(-90)" text-anchor="middle" class="lab">ECDF</text>
<rect x="49.5" y="0.8" width="74.1" height="38.300000000000004" fill="#fff" stroke="#383838" stroke-width="1.1"/>
<line x1="58.1" y1="12.6" x2="76.6" y2="12.6" stroke="#333" stroke-width="1.1"/>
<line x1="58.1" y1="30.7" x2="76.6" y2="30.7" stroke="#333" stroke-width="1.1" stroke-dasharray="3 2.15"/>
<text x="83.2" y="16.6" class="lg">genes</text>
<text x="83.2" y="34.5" class="lg">ERCC</text>
<rect x="347.5" y="197.8" width="53.5" height="118.59999999999997" fill="#fff" stroke="#383838" stroke-width="1.1"/>
<rect x="354.3" y="205.20" width="7.6" height="6.4" fill="#d3d3d3" stroke="#444" stroke-width="0.9"/>
<text x="366.0" y="212.00" class="lg">RAW</text>
<rect x="354.3" y="218.96" width="7.6" height="6.4" fill="#e41a1c" stroke="#444" stroke-width="0.9"/>
<text x="366.0" y="225.76" class="lg">TC</text>
<rect x="354.3" y="232.72" width="7.6" height="6.4" fill="#377eb8" stroke="#444" stroke-width="0.9"/>
<text x="366.0" y="239.52" class="lg">UQ</text>
<rect x="354.3" y="246.48" width="7.6" height="6.4" fill="#4daf4a" stroke="#444" stroke-width="0.9"/>
<text x="366.0" y="253.28" class="lg">TMM</text>
<rect x="354.3" y="260.24" width="7.6" height="6.4" fill="#984ea3" stroke="#444" stroke-width="0.9"/>
<text x="366.0" y="267.04" class="lg">AH</text>
<rect x="354.3" y="274.00" width="7.6" height="6.4" fill="#ff7f00" stroke="#444" stroke-width="0.9"/>
<text x="366.0" y="280.80" class="lg">FQ</text>
<rect x="354.3" y="287.76" width="7.6" height="6.4" fill="#ffff33" stroke="#444" stroke-width="0.9"/>
<text x="366.0" y="294.56" class="lg">CL</text>
<rect x="354.3" y="301.52" width="7.6" height="6.4" fill="#a65628" stroke="#444" stroke-width="0.9"/>
<text x="366.0" y="308.32" class="lg">RUV</text>
</svg>
</body></html>
